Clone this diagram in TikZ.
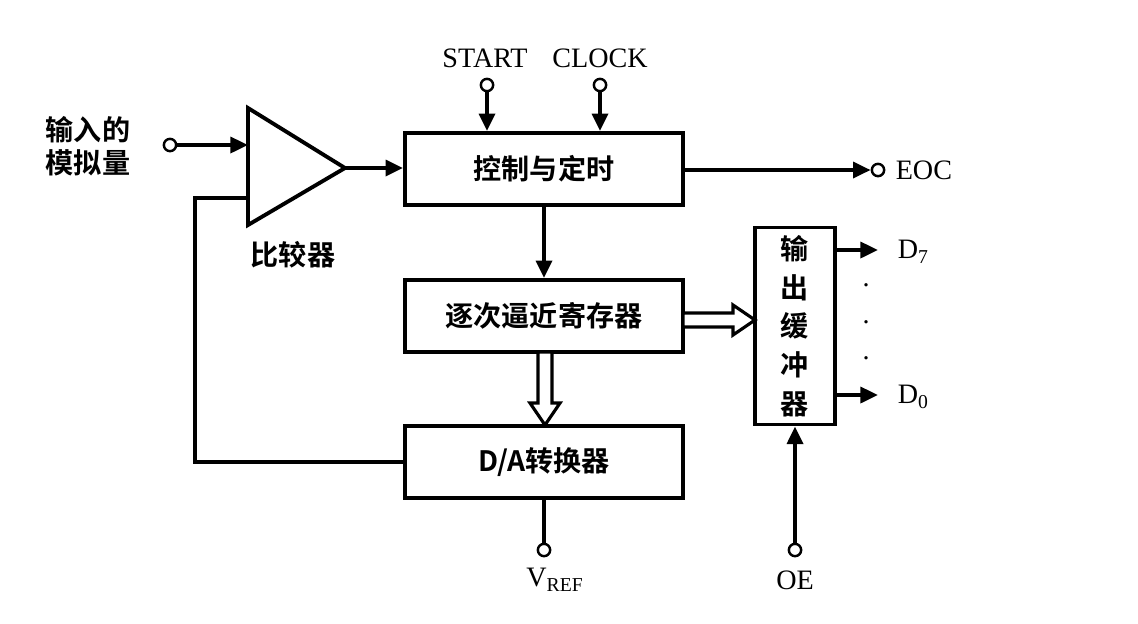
\documentclass[tikz,border=0pt]{standalone}
\usepackage{fontspec}
\setmainfont{Liberation Serif}
\newfontfamily\cjk{Noto Sans CJK SC}[BoldFont={Noto Sans CJK SC Bold}]
\usetikzlibrary{arrows.meta}
\begin{document}
\begin{tikzpicture}[x=0.02cm,y=-0.02cm,
  line width=2.2pt,
  box/.style={draw,line width=2.2pt,inner sep=0pt},
  cn/.style={font=\cjk\bfseries\fontsize{16}{19}\selectfont},
  lt/.style={font=\fontsize{16}{18}\selectfont},
  port/.style={circle,draw,line width=1.4pt,fill=white,inner sep=0pt,minimum size=7pt},
  arr/.style={-{Triangle[length=10pt,width=9pt]}},
  hollow/.style={draw,line width=1.8pt,fill=white}]
\useasboundingbox (0,0) rectangle (1138,623);
% boxes
\node[box,minimum width=278*0.02cm,minimum height=72*0.02cm,cn] (ctl) at (544,169) {控制与定时};
\node[box,minimum width=278*0.02cm,minimum height=72*0.02cm,cn] (sar) at (544,316) {逐次逼近寄存器};
\node[box,minimum width=278*0.02cm,minimum height=72*0.02cm,cn] (da) at (544,462) {D/A转换器};
\node[box,minimum width=80*0.02cm,minimum height=197*0.02cm,cn,align=center,font=\cjk\bfseries\fontsize{16}{22}\selectfont] (buf) at (795,326) {输\\出\\缓\\冲\\器};
% comparator
\draw (248,108) coordinate (c1) -- (345,168) coordinate (cout) -- (248,225) coordinate (c2) -- cycle;
\node[cn] (cmpl) at (293,255) {比较器};
% input
\node[cn,align=center] (inl) at (88,146) {输入的\\模拟量};
\node[port] (inp) at (170,145) {};
\coordinate (cin) at (248,145);
\draw[arr] (inp) -- (cin);
\draw[arr] (cout) -- (ctl.west |- cout);
% feedback
\coordinate (fb1) at (248,198);
\coordinate (fb2) at (195,198);
\coordinate (fb3) at (195,462);
\draw (fb1) -- (fb2) -- (fb3) -- (da.west);
% start clock
\node[port] (st) at (487,85) {};
\node[port] (ck) at (600,85) {};
\node[lt] (stl) at (485,58) {START};
\node[lt] (ckl) at (600,58) {CLOCK};
\draw[arr] (st) -- (st |- ctl.north);
\draw[arr] (ck) -- (ck |- ctl.north);
% EOC
\node[port] (eoc) at (878,170) {};
\node[lt,anchor=west] (eocl) at (888,170) {EOC};
\draw[arr] (ctl.east |- eoc) -- (eoc.west);
% ctl -> sar
\draw[arr] (ctl.south) -- (sar.north);
% hollow arrows
\draw[hollow] (683,313) -- (733,313) -- (733,305) -- (755,320) -- (733,335) -- (733,327) -- (683,327) -- cycle;
\draw[hollow] (538,352) -- (538,403) -- (530,403) -- (545,425) -- (560,403) -- (552,403) -- (552,352) -- cycle;
% vref
\node[port] (vr) at (544,550) {};
\node[lt] (vrl) at (555,580) {V\textsubscript{REF}};
\draw (da.south) -- (vr);
% outputs
\coordinate (d7) at (878,250);
\coordinate (d0) at (878,395);
\draw[arr] (buf.east |- d7) -- (d7);
\draw[arr] (buf.east |- d0) -- (d0);
\node[lt,anchor=west] (d7l) at (890,252) {D\textsubscript{7}};
\node[lt,anchor=west] (d0l) at (890,397) {D\textsubscript{0}};
\foreach \y in {285,322,358} \node[lt] at (866,\y) {.};
% OE
\node[port] (oe) at (795,550) {};
\node[lt] (oel) at (795,580) {OE};
\draw[arr] (oe) -- (buf.south);
\end{tikzpicture}
\end{document}
